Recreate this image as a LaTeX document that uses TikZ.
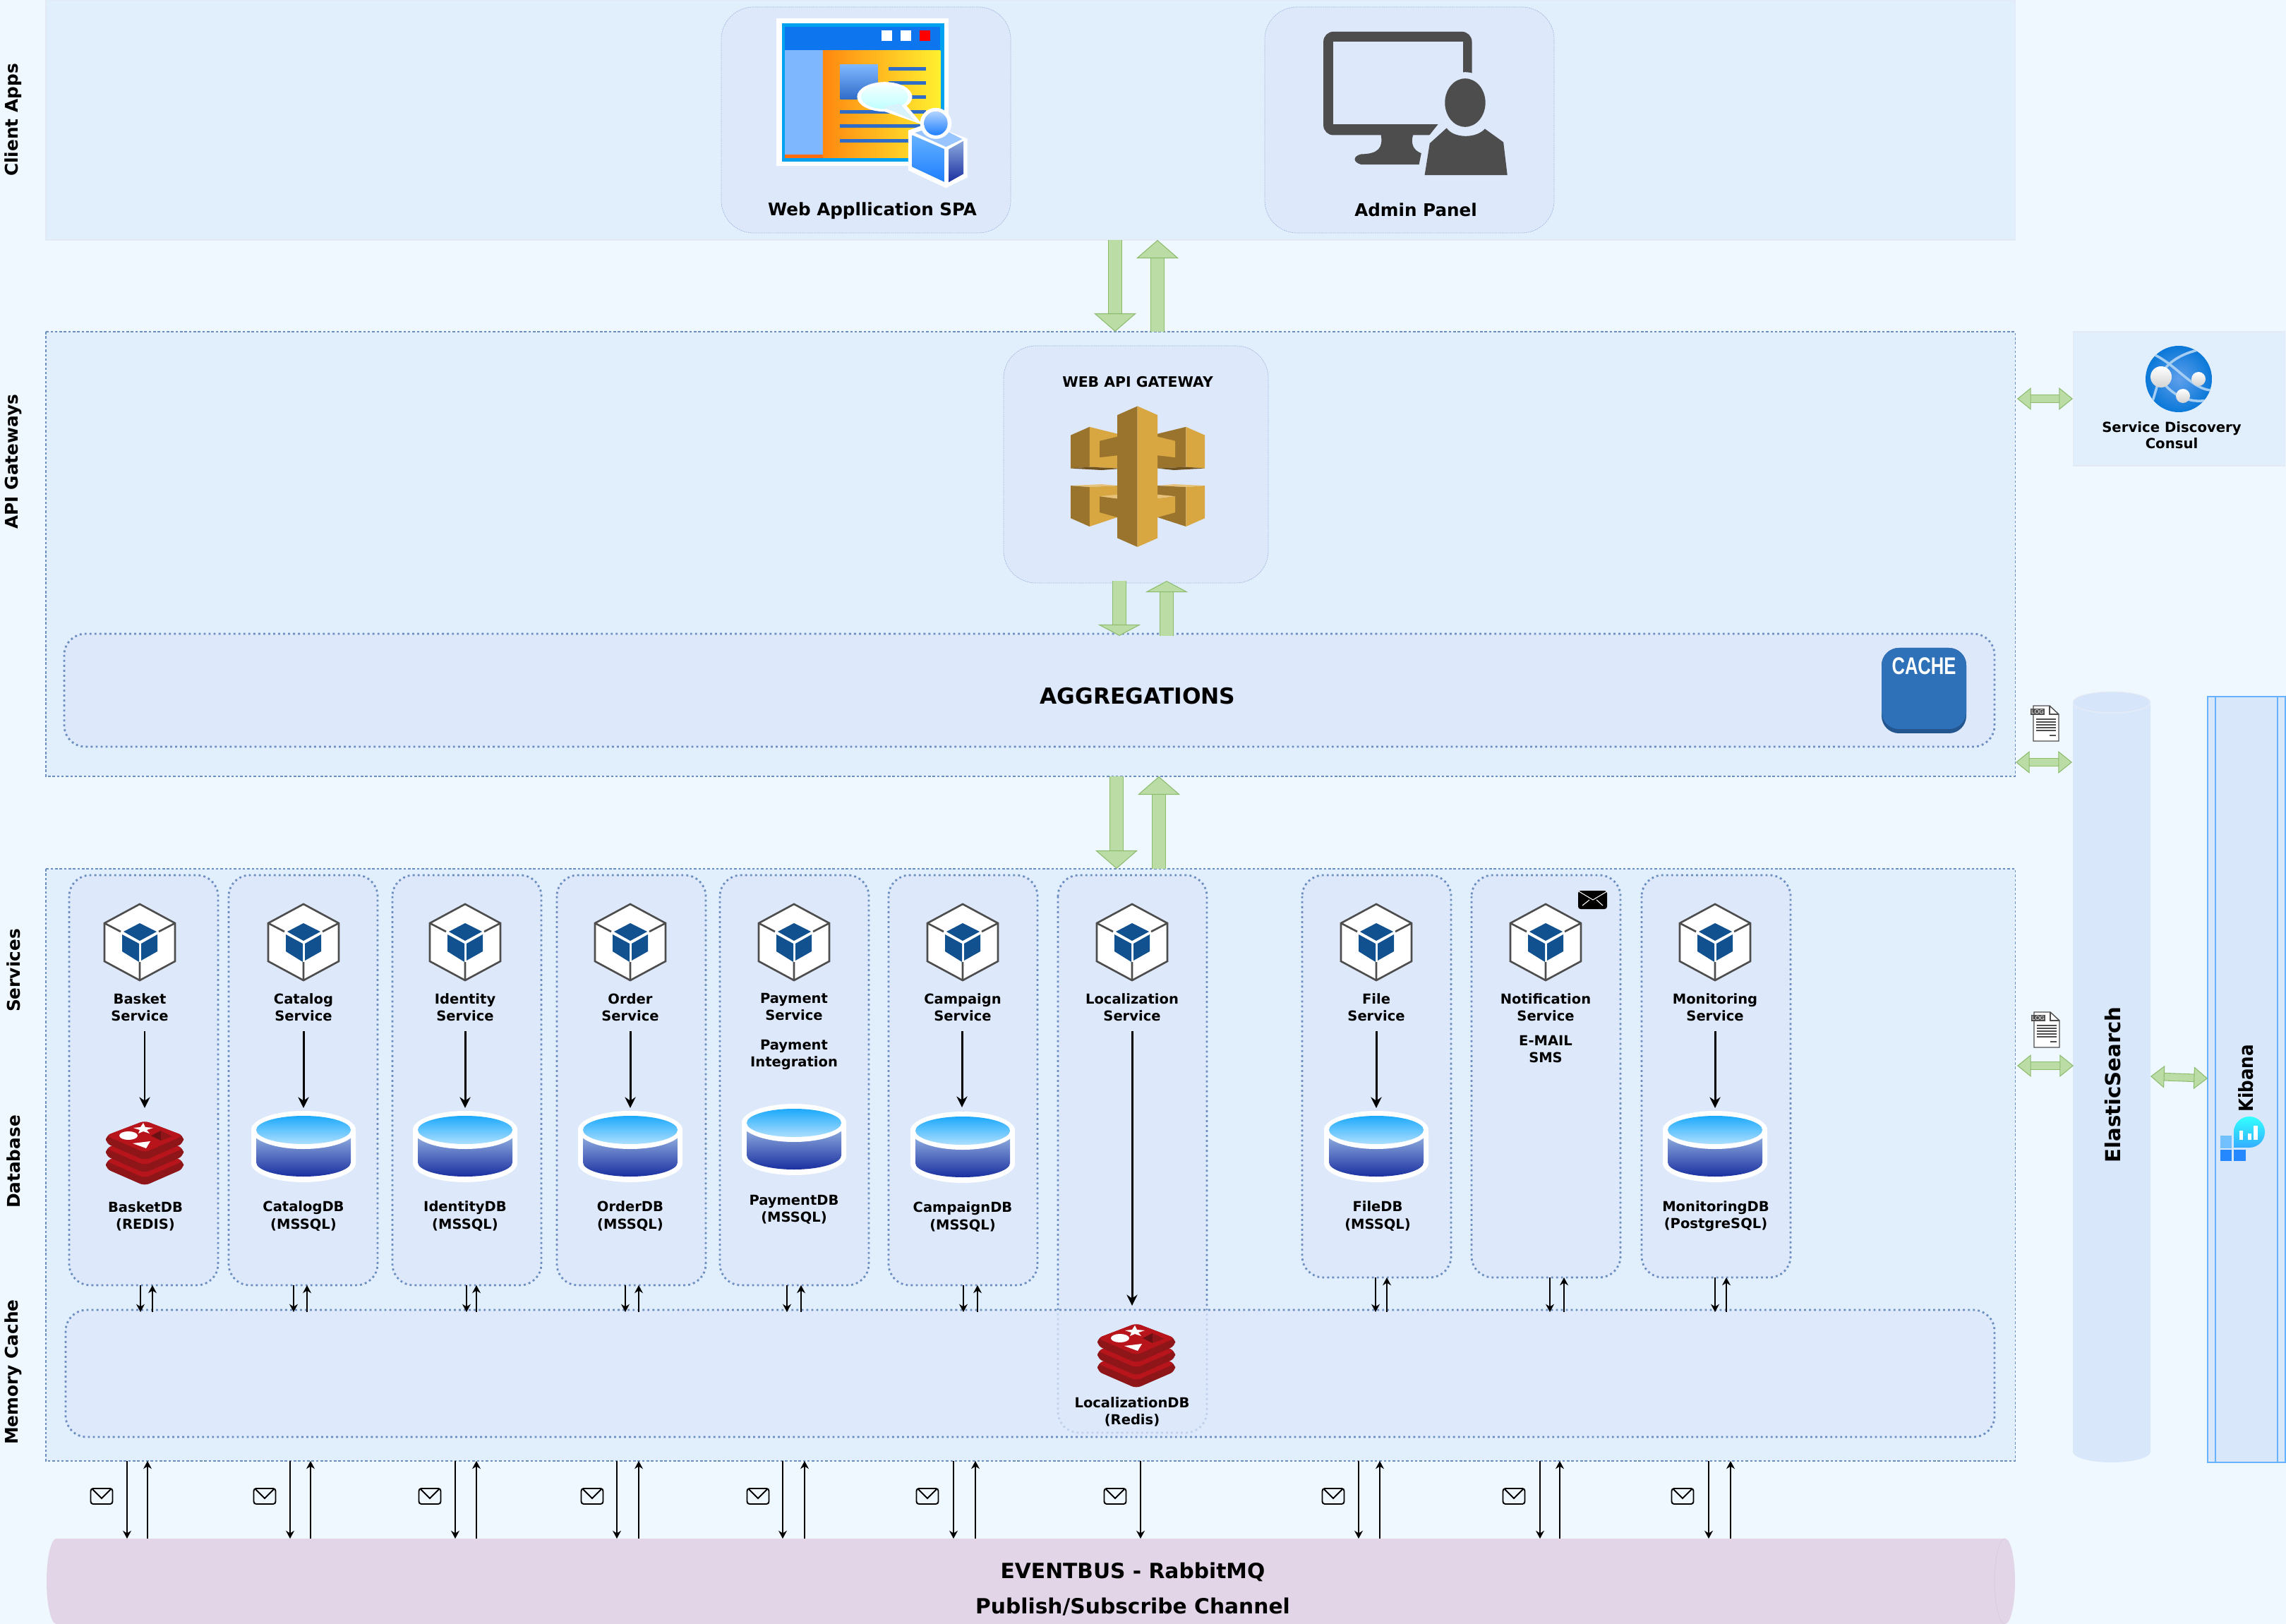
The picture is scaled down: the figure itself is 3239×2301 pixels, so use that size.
\documentclass[tikz,border=0pt]{standalone}
\usepackage{fontspec}
\setmainfont{DejaVu Sans}
\newfontfamily\cachefont{Liberation Sans}
\usetikzlibrary{arrows.meta}

\definecolor{pagebg}{HTML}{F0F8FF}
\definecolor{lanefill}{HTML}{E1EEFC}
\definecolor{cardfill}{HTML}{DDE8FB}
\definecolor{dotblue}{HTML}{6C8EBF}
\definecolor{softblue}{HTML}{A3B9DE}
\definecolor{columnfill}{HTML}{D9E7FA}
\definecolor{kibanaline}{HTML}{66B2FF}
\definecolor{busfill}{HTML}{E1D5E7}
\definecolor{greenfill}{HTML}{BBDDA5}
\definecolor{greenedge}{HTML}{8CBB6E}
\definecolor{cubeline}{HTML}{4D4D4D}
\definecolor{cubeblue}{HTML}{125190}
\definecolor{redistop}{HTML}{B8141B}
\definecolor{redisside}{HTML}{8E1619}
\definecolor{goldlight}{HTML}{D9A741}
\definecolor{golddark}{HTML}{9A742D}
\definecolor{goldshade}{HTML}{6E5220}
\definecolor{goldtop}{HTML}{E6C27A}
\definecolor{diskhi}{HTML}{8CA9DD}
\definecolor{disklo}{HTML}{1A2FA0}
\definecolor{lidhi}{HTML}{1DA9FB}
\definecolor{lidlo}{HTML}{ACDFFF}
\definecolor{cachetop}{HTML}{2E71B8}
\definecolor{cachelow}{HTML}{23558F}
\definecolor{globeout}{HTML}{0A78D8}
\definecolor{globemid}{HTML}{5F9FEC}
\definecolor{globeline}{HTML}{A6CDF2}
\definecolor{winframe}{HTML}{00A2F0}
\definecolor{winhead}{HTML}{0D75EE}
\definecolor{winside}{HTML}{7FB7FF}
\definecolor{winline}{HTML}{2F6CC8}
\definecolor{winorange}{HTML}{FF8810}
\definecolor{winyellow}{HTML}{FFF030}
\definecolor{boxhi}{HTML}{66B2FF}
\definecolor{boxlo}{HTML}{1E7EFF}
\definecolor{boxdark}{HTML}{1B2FA0}

\tikzset{
    lanebox/.style={fill=lanefill, draw=dotblue, line width=.3pt, dash pattern=on 1pt off .8pt},
    cardbox/.style={fill=cardfill, draw=dotblue, line width=.8pt, dash pattern=on .8pt off 1.2pt, rounded corners=8.5pt},
    softbox/.style={fill=cardfill, draw=softblue, line width=.2pt, dash pattern=on .5pt off .3pt, rounded corners=13pt},
    lanetext/.style={rotate=90, font=\fontsize{7.05}{8.5}\selectfont\bfseries},
    svctext/.style={align=center, inner sep=0pt, font=\fontsize{5.55}{6.83}\selectfont\bfseries},
    thinarrow/.style={black, line width=.45pt, -{Stealth[length=3.2pt,width=3.4pt]}},
    cardarrow/.style={black, line width=.85pt, -{Stealth[length=4.4pt,width=4.3pt]}},
    blockarrow/.style={draw=greenedge, line width=.3pt, double=greenfill, double distance=5pt,
        -{Triangle[length=7.4pt,width=17pt,fill=greenfill]}},
    smallblock/.style={draw=greenedge, line width=.3pt, double=greenfill, double distance=5pt,
        -{Triangle[length=4.6pt,width=17.3pt,fill=greenfill]}},
    twoway/.style={draw=greenedge, line width=.3pt, double=greenfill, double distance=2.7pt,
        {Triangle[length=5.6pt,width=9pt,fill=greenfill]}-{Triangle[length=5.6pt,width=9pt,fill=greenfill]}},
    svccube/.pic={
        \draw[cubeline, line width=.75pt, fill=white] (0,-54) -- (50,-27) -- (50,27) -- (0,54) -- (-50,27) -- (-50,-27) -- cycle;
        \draw[cubeline, line width=.75pt] (-50,-27) -- (-27,-15) (50,-27) -- (27,-15) (0,54) -- (0,28);
        \fill[cubeblue] (0,-27) -- (24,-15) -- (0,-2) -- (-23,-15) -- cycle;
        \fill[cubeblue] (-25,-11) -- (-1,2) -- (-1,28) -- (-25,13) -- cycle;
        \fill[cubeblue] (25,-11) -- (2,2) -- (2,26) -- (25,13) -- cycle;
    },
    dbdisk/.pic={
        \fill[white] (-74,0) arc[start angle=180, end angle=360, x radius=74, y radius=26] -- (74,47)
            arc[start angle=0, end angle=180, x radius=74, y radius=27] -- cycle;
        \shade[top color=diskhi, bottom color=disklo] (-67,10) -- (-67,46)
            arc[start angle=180, end angle=0, x radius=67, y radius=20] -- (67,10) -- cycle;
        \fill[white] (0,0) ellipse[x radius=74, y radius=27];
        \shade[top color=lidhi, bottom color=lidlo] (0,0) ellipse[x radius=67, y radius=20];
    },
    rediscube/.pic={
        \foreach \k in {36,18,0} {
            \fill[redisside, rounded corners=2pt] (-55,\k) -- (-55,\k+11) -- (0,\k+35) -- (55,\k+11) -- (55,\k) -- (0,\k-21) -- cycle;
            \fill[redistop, rounded corners=2pt] (0,\k-21) -- (55,\k) -- (0,\k+24) -- (-55,\k) -- cycle;
        }
        \fill[white] (-23,0) ellipse[x radius=13, y radius=6];
        \fill[white] (-17,11) -- (8,8) -- (2,18) -- cycle;
        \fill[white] (-16,-11) -- (-6,-12) -- (-2,-18) -- (1,-12) -- (12,-11) -- (3,-8) -- (7,-3) -- (-2,-6) -- (-9,-3) -- (-7,-8) -- cycle;
        \fill[redisside!75!black] (9,0) -- (23,-7) -- (23,7) -- cycle;
        \fill[redisside] (23,-7) -- (39,1) -- (23,7) -- cycle;
    },
    mailicon/.pic={
        \draw[black, line width=.55pt, rounded corners=1pt] (-15.5,-11) rectangle (15.5,11);
        \draw[black, line width=.55pt] (-13,-10) -- (0,3) -- (13,-10);
    },
    logicon/.pic={
        \draw[cubeline, line width=.4pt, fill=white] (-16,-25) -- (7,-25) -- (20,-13) -- (20,25) -- (-16,25) -- cycle;
        \draw[cubeline, line width=.4pt] (7,-25) -- (7,-13) -- (20,-13);
        \fill[cubeline] (-20,-21) rectangle (0,-12);
        \node[inner sep=0pt, text=white, font=\cachefont\fontsize{2.4}{3}\selectfont] (logtag) at (-10,-16.5) {LOG};
        \foreach \yy in {-6,-2,2,6,10} {
            \draw[cubeline, line width=.4pt] (-12,\yy) -- (16,\yy);
        }
        \draw[cubeline, line width=.4pt] (7,17) -- (16,17);
    },
}

\begin{document}
\begin{tikzpicture}[x=.01cm, y=-.01cm]
    % page
    \fill[pagebg] (0,0) rectangle (3239,2301);
    \useasboundingbox (0,0) rectangle (3239,2301);

    % lanes
    \fill[lanefill] (65,0) rectangle (2855,340);
    \draw[softblue!30, line width=.3pt] (65,0) rectangle (2855,340);
    \draw[lanebox] (65,470) rectangle (2855,1100);
    \draw[lanebox] (65,1231) rectangle (2855,2070);
    \node[lanetext] (laneclient) at (19,170) {Client Apps};
    \node[lanetext] (laneapi) at (19,654) {API Gateways};
    \node[lanetext] (laneservices) at (19,1375) {Services};
    \node[lanetext] (lanedatabase) at (19,1646) {Database};
    \node[lanetext] (lanecache) at (19,1944) {Memory Cache};

    % client boxes
    \draw[softbox] (1022,10) rectangle (1432,330);
    \draw[softbox] (1792,10) rectangle (2202,330);
    \node[inner sep=0pt, font=\fontsize{7}{8.5}\selectfont\bfseries] (webtext) at (1236,299) {Web Appllication SPA};
    \node[inner sep=0pt, font=\fontsize{7}{8.5}\selectfont\bfseries] (admintext) at (2006,297) {Admin Panel};

    % web window icon
    \begin{scope}[shift={(1000,0)}, xscale=.797, yscale=.333]
        \fill[white] (126,78) rectangle (432,706);
        \fill[winframe] (135,100) rectangle (424,687);
        \fill[winhead] (141,115) rectangle (417,214);
        \fill[winside] (141,214) rectangle (208,657);
        \shade[left color=winorange, right color=winyellow] (208,214) rectangle (417,672);
        \fill[winorange!80!red] (141,657) rectangle (208,672);
        \shade[top color=winside, bottom color=winline] (239,276) rectangle (306,423);
        \foreach \yy in {284,345,406} {
            \fill[winline] (325,\yy) rectangle (392,\yy+15);
        }
        \foreach \yy in {468,530,592} {
            \fill[winline] (239,\yy) rectangle (392,\yy+15);
        }
        \fill[white] (312,129) rectangle (331,174);
        \fill[white] (346,129) rectangle (365,174);
        \fill[red] (380,129) rectangle (399,174);
        % speech bubble
        \fill[white] (318,412) ellipse[x radius=49, y radius=63];
        \fill[white] (300,460) -- (385,530) -- (350,430) -- cycle;
        \shade[top color=cyan!5!white, bottom color=cyan!25!white] (318,412) ellipse[x radius=42, y radius=52];
        \fill[cyan!15!white] (315,455) -- (372,515) -- (345,440) -- cycle;
        % person
        \fill[white] (360,555) -- (395,525) -- (465,590) -- (465,755) -- (427,800) -- (360,725) -- cycle;
        \fill[winside!80!white] (372,565) -- (410,535) -- (456,592) -- (427,625) -- cycle;
        \shade[top color=boxhi, bottom color=boxlo] (367,575) -- (425,635) -- (425,775) -- (367,710) -- cycle;
        \shade[top color=diskhi, bottom color=boxdark] (432,635) -- (458,600) -- (458,740) -- (432,775) -- cycle;
        \fill[white] (409,525) ellipse[x radius=28, y radius=66];
        \shade[top color=winside!60!white, bottom color=boxlo] (409,525) ellipse[x radius=21, y radius=51];
    \end{scope}

    % admin monitor icon
    \begin{scope}[shift={(1000,0)}, xscale=.797, yscale=.333]
        \fill[cubeline, rounded corners=4pt] (1098,135) rectangle (1362,575);
        \fill[cardfill] (1115,178) rectangle (1346,530);
        \fill[cubeline] (1200,570) -- (1258,570) .. controls (1252,610) and (1258,640) .. (1272,652)
            -- (1268,700) -- (1165,700) .. controls (1150,690) and (1150,665) .. (1165,656)
            .. controls (1195,655) and (1205,630) .. (1200,570) -- cycle;
        \fill[cardfill] (1350,437) ellipse[x radius=48, y radius=130];
        \fill[cardfill] (1268,760) -- (1275,610) -- (1305,520) -- (1400,520) -- (1440,610) -- (1440,760) -- cycle;
        \fill[cubeline] (1350,437) ellipse[x radius=36, y radius=103];
        \fill[cubeline] (1278,745) -- (1287,610) -- (1317,545) .. controls (1330,590) and (1370,590) .. (1385,548)
            -- (1418,605) -- (1425,745) -- cycle;
    \end{scope}

    % gateway
    \draw[softbox] (1422,490) rectangle (1797,826);
    \node[inner sep=0pt, font=\fontsize{5.8}{7}\selectfont\bfseries] (gatewaytext) at (1612,541) {WEB API GATEWAY};
    \begin{scope}[shift={(1400,480)}, xscale=.893, yscale=.408]
        \fill[golddark] (131,335) -- (161,306) -- (161,445) -- (131,450) -- cycle;
        \fill[goldlight] (161,306) -- (205,330) -- (205,450) -- (161,445) -- cycle;
        \fill[golddark] (177,355) -- (205,340) -- (205,405) -- (177,412) -- cycle;
        \fill[goldshade] (131,450) -- (161,445) -- (205,450) -- (205,452) -- (180,456) -- cycle;
        \fill[golddark] (269,330) -- (314,306) -- (314,445) -- (269,450) -- cycle;
        \fill[goldlight] (314,306) -- (344,335) -- (344,450) -- (314,445) -- cycle;
        \fill[goldlight] (269,340) -- (297,355) -- (297,412) -- (269,405) -- cycle;
        \fill[goldshade] (269,450) -- (314,445) -- (344,450) -- (295,456) -- cycle;
        \fill[goldtop] (131,510) -- (180,505) -- (205,510) -- (161,515) -- cycle;
        \fill[golddark] (131,510) -- (161,515) -- (161,652) -- (131,623) -- cycle;
        \fill[goldlight] (161,515) -- (205,510) -- (205,620) -- (161,652) -- cycle;
        \fill[golddark] (177,547) -- (205,555) -- (205,620) -- (177,603) -- cycle;
        \fill[goldtop] (177,547) -- (205,541) -- (205,555) -- cycle;
        \fill[goldtop] (269,510) -- (295,505) -- (344,510) -- (314,515) -- cycle;
        \fill[golddark] (269,510) -- (314,515) -- (314,652) -- (269,620) -- cycle;
        \fill[goldlight] (314,515) -- (344,510) -- (344,623) -- (314,652) -- cycle;
        \fill[goldlight] (269,555) -- (297,547) -- (297,603) -- (269,620) -- cycle;
        \fill[goldtop] (269,541) -- (297,547) -- (269,555) -- cycle;
        \fill[golddark] (237,234) -- (205,265) -- (205,692) -- (237,723) -- cycle;
        \fill[goldlight] (237,234) -- (269,265) -- (269,692) -- (237,723) -- cycle;
    \end{scope}

    % aggregations
    \draw[cardbox] (91,898) rectangle (2826,1058);
    \node[inner sep=0pt, font=\fontsize{8.9}{10}\selectfont\bfseries] (aggtext) at (1612,986) {AGGREGATIONS};
    \fill[cachelow, rounded corners=7pt] (2666,918) rectangle (2786,1039);
    \fill[cachetop, rounded corners=7pt] (2666,918) rectangle (2786,1033);
    \node[inner sep=0pt, text=white, font=\cachefont\fontsize{9.7}{11}\selectfont\bfseries] (cachetext) at (2726,944) {\scalebox{.75}[1]{CACHE}};

    % service discovery
    \fill[lanefill] (2937,470) rectangle (3237,660);
    \draw[softblue!30, line width=.3pt] (2937,470) rectangle (3237,660);
    \shade[inner color=globemid, outer color=globeout] (3087,537) circle (47);
    \begin{scope}
        \clip (3087,537) circle (47);
        \draw[globeline, line width=1pt] (3045,500) .. controls (3080,510) and (3110,560) .. (3140,552);
        \draw[globeline, line width=1pt] (3060,535) .. controls (3070,510) and (3100,495) .. (3140,492);
        \draw[globeline, line width=1pt] (3060,535) .. controls (3075,560) and (3105,575) .. (3135,565);
        \draw[globeline, line width=1pt] (3060,535) -- (3048,575);
    \end{scope}
    \shade[top color=white, bottom color=gray!35] (3062,534) ellipse[x radius=15, y radius=15];
    \shade[top color=white, bottom color=gray!35] (3115,537) ellipse[x radius=10, y radius=10];
    \shade[top color=white, bottom color=gray!35] (3093,561) ellipse[x radius=10, y radius=10];
    \node[align=center, inner sep=0pt, font=\fontsize{5.6}{6.55}\selectfont\bfseries] (discoverytext) at (3077,617) {Service Discovery\\Consul};

    % elastic column
    \fill[columnfill] (2937,995) -- (2937,2057) arc[start angle=180, end angle=0, x radius=55, y radius=15] -- (3047,995) -- cycle;
    \draw[softblue!25, fill=columnfill!95!softblue, line width=.3pt] (2992,995) ellipse[x radius=55, y radius=15];
    \node[rotate=90, inner sep=0pt, font=\fontsize{8.3}{10}\selectfont\bfseries] (elastictext) at (2994,1537) {ElasticSearch};

    % kibana
    \draw[kibanaline, fill=columnfill, line width=.5pt] (3128,987) rectangle (3238,2072);
    \draw[kibanaline, line width=.5pt] (3139,987) -- (3139,2072) (3227,987) -- (3227,2072);
    \node[rotate=90, inner sep=0pt, font=\fontsize{7.85}{9}\selectfont\bfseries] (kibanatext) at (3182,1528) {\scalebox{.89}[1]{Kibana}};
    \fill[blue!45!cyan!55!white] (3146,1609) rectangle (3162,1627);
    \fill[blue!55!cyan!85!white] (3146,1629) rectangle (3162,1645);
    \fill[blue!55!cyan!85!white] (3165,1629) rectangle (3182,1645);
    \shade[top color=cyan!80!white, bottom color=cyan!60!blue!80!white] (3165,1626) -- (3165,1604) arc[start angle=180, end angle=450, x radius=22, y radius=22] -- cycle;
    \fill[white] (3173,1602) rectangle (3178,1615);
    \fill[white] (3185,1606) rectangle (3190,1615);
    \fill[white] (3193,1595) rectangle (3199,1615);

    % log icons
    \pic at (2897,1025) {logicon};
    \pic at (2898,1459) {logicon};

    % green arrows
    \coordinate (clientdown) at (1580,340);
    \coordinate (apidown) at (1580,470);
    \coordinate (apiup) at (1640,470);
    \coordinate (clientup) at (1640,340);
    \draw[blockarrow] (clientdown) -- (apidown);
    \draw[blockarrow] (apiup) -- (clientup);
    \coordinate (gatedown) at (1586,823);
    \coordinate (aggdown) at (1586,901);
    \coordinate (aggup) at (1653,901);
    \coordinate (gateup) at (1653,823);
    \draw[smallblock] (gatedown) -- (aggdown);
    \draw[smallblock] (aggup) -- (gateup);
    \coordinate (apilow) at (1582,1100);
    \coordinate (svclow) at (1582,1231);
    \coordinate (svcup) at (1642,1231);
    \coordinate (apiupper) at (1642,1100);
    \draw[blockarrow] (apilow) -- (svclow);
    \draw[blockarrow] (svcup) -- (apiupper);
    \coordinate (aa) at (2858,565);
    \coordinate (ab) at (2937,565);
    \draw[twoway] (aa) -- (ab);
    \coordinate (ba) at (2856,1080);
    \coordinate (bb) at (2936,1080);
    \draw[twoway] (ba) -- (bb);
    \coordinate (ca) at (2858,1510);
    \coordinate (cb) at (2938,1510);
    \draw[twoway] (ca) -- (cb);
    \coordinate (da) at (3047,1525);
    \coordinate (db) at (3128,1528);
    \draw[twoway] (da) -- (db);

    % service cards
    \foreach \nm/\cx/\cl/\cb/\txt in {
        basket/198/98/1821/{Basket\\Service},
        catalog/430/324/1821/{Catalog\\Service},
        identity/659/556/1821/{Identity\\Service},
        order/893/789/1821/{Order\\Service},
        payment/1125/1020/1821/{Payment\\Service},
        campaign/1364/1259/1821/{Campaign\\Service},
        localization/1604/1499/2030/{Localization\\Service},
        file/1950/1845/1810/{File\\Service},
        notification/2190/2085/1810/{Notification\\Service},
        monitoring/2430/2326/1810/{Monitoring\\Service}} {
        \draw[cardbox] (\cl,1240) rectangle (\cl+211,\cb);
        \pic at (\cx,1335) {svccube};
        \node[svctext] (label\nm) at (\cx,1427) {\txt};
    }

    % memory cache
    \draw[cardbox, fill opacity=.75] (93,1856) rectangle (2826,2036);

    \node[svctext] (paymentextra) at (1125,1494) {Payment\\Integration};
    \node[svctext] (notifyextra) at (2190,1487) {E-MAIL\\SMS};
    \fill[black, rounded corners=1pt] (2236,1262) rectangle (2277,1288);
    \draw[white, line width=.3pt] (2237,1263) -- (2257,1275) -- (2277,1263) (2242,1283) -- (2252,1275) (2271,1283) -- (2262,1275);

    % databases
    \foreach \dx/\dy in {430/1601,659/1601,893/1601,1125/1591,1364/1602,1950/1601,2430/1601} {
        \pic at (\dx,\dy) {dbdisk};
    }
    \pic at (205,1609) {rediscube};
    \pic at (1610,1896) {rediscube};
    \foreach \nm/\dx/\dy/\txt in {
        basket/206/1723/{BasketDB\\(REDIS)},
        catalog/430/1723/{CatalogDB\\(MSSQL)},
        identity/659/1723/{IdentityDB\\(MSSQL)},
        order/893/1723/{OrderDB\\(MSSQL)},
        payment/1125/1714/{PaymentDB\\(MSSQL)},
        campaign/1364/1724/{CampaignDB\\(MSSQL)},
        local/1604/2000/{LocalizationDB\\(Redis)},
        file/1952/1723/{FileDB\\(MSSQL)},
        monitoring/2431/1723/{MonitoringDB\\(PostgreSQL)}} {
        \node[svctext] (dblabel\nm) at (\dx,\dy) {\txt};
    }

    % service to database
    \foreach \ax/\ay in {205/1570,430/1570,659/1570,893/1570,1363/1569,1604/1850,1950/1570,2430/1570} {
        \coordinate (from\ax) at (\ax,1461);
        \coordinate (to\ax) at (\ax,\ay);
        \draw[cardarrow] (from\ax) -- (to\ax);
    }

    % card to cache
    \foreach \ax/\bx/\ay in {199/216/1821,416/435/1821,661/675/1821,886/905/1821,1115/1135/1821,1365/1385/1821,1949/1965/1810,2196/2216/1810,2430/2446/1810} {
        \coordinate (cardd\ax) at (\ax,\ay);
        \coordinate (cached\ax) at (\ax,1859);
        \coordinate (cacheu\bx) at (\bx,1859);
        \coordinate (cardu\bx) at (\bx,\ay);
        \draw[thinarrow] (cardd\ax) -- (cached\ax);
        \draw[thinarrow] (cacheu\bx) -- (cardu\bx);
    }

    % event bus
    \fill[busfill] (80,2180) -- (2841,2180) arc[start angle=270, end angle=450, x radius=14, y radius=60.5]
        -- (80,2301) arc[start angle=90, end angle=270, x radius=14, y radius=60.5] -- cycle;
    \draw[busfill!92!gray, line width=.3pt] (2841,2180) arc[start angle=270, end angle=90, x radius=15, y radius=60.5];
    \node[align=center, inner sep=0pt, font=\fontsize{8.45}{14.2}\selectfont\bfseries] (bustext) at (1605,2252) {EVENTBUS - RabbitMQ\\Publish/Subscribe Channel};

    % lane to bus
    \foreach \ax/\bx/\mx in {180/209/144,411/440/375,645/675/609,874/905/839,1109/1140/1074,1351/1382/1314,1925/1955/1889,2182/2210/2145,2421/2452/2384} {
        \coordinate (laned\ax) at (\ax,2070);
        \coordinate (busd\ax) at (\ax,2180);
        \coordinate (busu\bx) at (\bx,2180);
        \coordinate (laneu\bx) at (\bx,2070);
        \draw[thinarrow] (laned\ax) -- (busd\ax);
        \draw[thinarrow] (busu\bx) -- (laneu\bx);
        \pic at (\mx,2120) {mailicon};
    }
    \coordinate (lanedl) at (1616,2070);
    \coordinate (busdl) at (1616,2180);
    \draw[thinarrow] (lanedl) -- (busdl);
    \pic at (1580,2120) {mailicon};
\end{tikzpicture}
\end{document}
